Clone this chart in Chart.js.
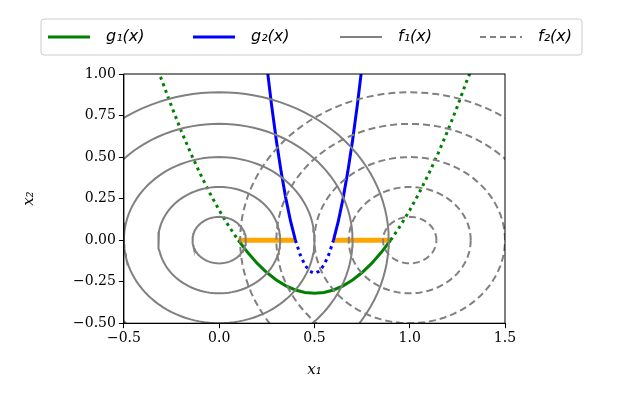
<!DOCTYPE html>
<html>
<head>
<meta charset="utf-8">
<script src="https://cdn.jsdelivr.net/npm/chart.js@4"></script>
<style>
  html, body { margin: 0; padding: 0; background: #fff; }
  #wrap { width: 637px; height: 409px; }
</style>
</head>
<body>
<div id="wrap"><canvas id="chart"></canvas></div>
<script>
// Data
const xTicks = [-0.5, 0.0, 0.5, 1.0, 1.5]
const yTicks = [-0.5, -0.25, 0.0, 0.25, 0.5, 0.75, 1.0]
const contourRadii = [0.14, 0.32, 0.5, 0.7, 0.89]
const f1Center = [0, 0]
const f2Center = [1, 0]

const g1DotLeftX = [-0.35, -0.3, -0.25, -0.2, -0.15, -0.1, -0.05, 0.0, 0.05, 0.1]
const g1DotLeftY = [1.1, 0.96, 0.805, 0.66, 0.525, 0.4, 0.285, 0.18, 0.085, 0.0]
const g1SolidX = [0.1, 0.15, 0.2, 0.25, 0.3, 0.35, 0.4, 0.45, 0.5, 0.55, 0.6, 0.65, 0.7, 0.75, 0.8, 0.85, 0.9]
const g1SolidY = [0.0, -0.075, -0.14, -0.195, -0.24, -0.275, -0.3, -0.315, -0.32, -0.315, -0.3, -0.275, -0.24, -0.195, -0.14, -0.075, 0.0]
const g1DotRightX = [0.9, 0.95, 1.0, 1.05, 1.1, 1.15, 1.2, 1.25, 1.3, 1.35]
const g1DotRightY = [0.0, 0.085, 0.18, 0.285, 0.4, 0.525, 0.66, 0.805, 0.96, 1.1]

const g2SolidLeftX = [0.25, 0.275, 0.3, 0.325, 0.35, 0.375, 0.4]
const g2SolidLeftY = [1.05, 0.8125, 0.6, 0.4125, 0.25, 0.1125, 0.0]
const g2DotX = [0.4, 0.425, 0.45, 0.475, 0.5, 0.525, 0.55, 0.575, 0.6]
const g2DotY = [0.0, -0.0875, -0.15, -0.1875, -0.2, -0.1875, -0.15, -0.0875, 0.0]
const g2SolidRightX = [0.6, 0.625, 0.65, 0.675, 0.7, 0.725, 0.75]
const g2SolidRightY = [0.0, 0.1125, 0.25, 0.4125, 0.6, 0.8125, 1.05]

const feasibleX = [[0.1, 0.4], [0.6, 0.9]]

const legendLabels = ["g\u2081(x)", "g\u2082(x)", "f\u2081(x)", "f\u2082(x)"]

function pts(xs, ys) {
  return xs.map((x, i) => ({ x: x, y: ys[i] }))
}

function circlePts(c, r) {
  const out = []
  for (let i = 0; i <= 120; i++) {
    const a = (i / 120) * 2 * Math.PI
    out.push({ x: c[0] + r * Math.cos(a), y: c[1] + r * Math.sin(a) })
  }
  return out
}

function line(data, color, width, dash) {
  return {
    data: data, borderColor: color, borderWidth: width, borderDash: dash || [],
    showLine: true, pointRadius: 0, fill: false, tension: 0
  }
}

const datasets = []
contourRadii.forEach((r) => {
  datasets.push(line(circlePts(f1Center, r), "#808080", 2))
  datasets.push(line(circlePts(f2Center, r), "#808080", 2, [7, 4]))
})
datasets.push(line(pts(g1DotLeftX, g1DotLeftY), "green", 3, [3, 4]))
datasets.push(line(pts(g1DotRightX, g1DotRightY), "green", 3, [3, 4]))
datasets.push(line(pts(g1SolidX, g1SolidY), "green", 3))
datasets.push(line(pts(g2DotX, g2DotY), "blue", 3, [3, 4]))
datasets.push(line(pts(g2SolidLeftX, g2SolidLeftY), "blue", 3))
datasets.push(line(pts(g2SolidRightX, g2SolidRightY), "blue", 3))
feasibleX.forEach((seg) => {
  datasets.push(line([{ x: seg[0], y: 0 }, { x: seg[1], y: 0 }], "orange", 5))
})

// frame and legend drawn by hand
const framePlugin = {
  id: "frame",
  afterDraw(chart) {
    const ctx = chart.ctx
    const a = chart.chartArea
    ctx.save()
    ctx.strokeStyle = "#000"
    ctx.lineWidth = 1
    ctx.strokeRect(a.left, a.top, a.right - a.left, a.bottom - a.top)

    // legend box
    ctx.strokeStyle = "#ccc"
    ctx.fillStyle = "#fff"
    ctx.beginPath()
    ctx.roundRect(41, 19, 541, 36, 3)
    ctx.fill()
    ctx.stroke()
    const styles = [
      { c: "green", d: [] }, { c: "blue", d: [] },
      { c: "#808080", d: [] }, { c: "#808080", d: [6, 4] }
    ]
    const starts = [48, 193, 340, 480]
    ctx.font = "italic 16px 'DejaVu Sans'"
    ctx.textBaseline = "middle"
    styles.forEach((s, i) => {
      ctx.strokeStyle = s.c
      ctx.lineWidth = s.c === "#808080" ? 2 : 3
      ctx.setLineDash(s.d)
      ctx.beginPath()
      ctx.moveTo(starts[i], 37)
      ctx.lineTo(starts[i] + 42, 37)
      ctx.stroke()
      ctx.setLineDash([])
      ctx.fillStyle = "#000"
      ctx.fillText(legendLabels[i], starts[i] + 58, 37)
    })
    ctx.restore()
  }
}

const tickFont = { family: "'DejaVu Serif'", size: 14 }

new Chart(document.getElementById("chart"), {
  type: "scatter",
  data: { datasets: datasets },
  plugins: [framePlugin],
  options: {
    responsive: true,
    maintainAspectRatio: false,
    animation: false,
    layout: { padding: { left: 20, right: 132, top: 74, bottom: 30 } },
    plugins: { legend: { display: false }, tooltip: { enabled: false } },
    scales: {
      x: {
        type: "linear", min: -0.5, max: 1.5,
        afterBuildTicks: (ax) => { ax.ticks = xTicks.map((v) => ({ value: v })) },
        ticks: { color: "#000", font: tickFont, padding: 2, callback: (v) => v.toFixed(1).replace("-", "\u2212") },
        grid: { drawOnChartArea: false, tickLength: 5, color: "#000" },
        border: { color: "#000" },
        title: { display: true, text: "x\u2081", color: "#000", font: { family: "'DejaVu Serif'", size: 15, style: "italic" }, padding: { top: 12, bottom: 0 } }
      },
      y: {
        type: "linear", min: -0.5, max: 1.0,
        afterBuildTicks: (ax) => { ax.ticks = yTicks.map((v) => ({ value: v })) },
        ticks: { color: "#000", font: tickFont, padding: 3, callback: (v) => v.toFixed(2).replace("-", "\u2212") },
        grid: { drawOnChartArea: false, tickLength: 5, color: "#000" },
        border: { color: "#000" },
        title: { display: true, text: "x\u2082", color: "#000", font: { family: "'DejaVu Serif'", size: 15, style: "italic" }, padding: { top: 0, bottom: 32 } }
      }
    }
  }
})
</script>
</body>
</html>
